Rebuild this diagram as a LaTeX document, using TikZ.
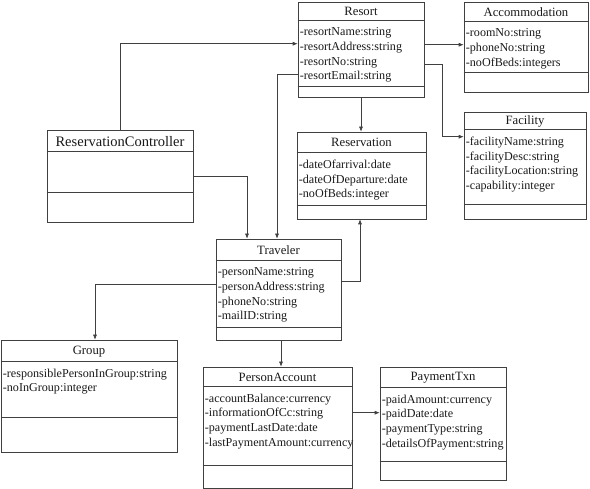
\documentclass[tikz,border=0pt]{standalone}
\usepackage{fontspec}
\setmainfont{Liberation Serif}
\usetikzlibrary{arrows.meta}
\tikzstyle{classbox}=[rectangle,draw=black!75,line width=0.6pt,inner sep=0pt]
\tikzstyle{sep} = [draw=black!75,line width=0.6pt]
\tikzstyle{ctitle} = [inner sep=0pt,text=black!90,font=\fontsize{12.7}{14}\selectfont]
\tikzstyle{attrs} = [inner sep=0pt,anchor=north west,align=left,text=black!90,font=\fontsize{12.1}{14.6}\selectfont]
\tikzstyle{assoc} = [draw=black!75,line width=0.6pt,-{Latex[length=5pt,width=4pt]}]

\begin{document}
\begin{tikzpicture}[x=1pt,y=-1pt]
        \useasboundingbox (0,0) rectangle (590,489);
        % classes
        \node[classbox,minimum width=126pt,minimum height=95pt] (resort) at (361,49.5) {};
        \node[classbox,minimum width=124pt,minimum height=90pt] (accom) at (526,47) {};
        \node[classbox,minimum width=122pt,minimum height=107pt] (fac) at (525,165.5) {};
        \node[classbox,minimum width=146pt,minimum height=92pt] (rc) at (120,176) {};
        \node[classbox,minimum width=129pt,minimum height=87pt] (resv) at (361.5,175.5) {};
        \node[classbox,minimum width=125pt,minimum height=101pt] (trav) at (278.5,289.5) {};
        \node[classbox,minimum width=176pt,minimum height=112pt] (grp) at (89,396) {};
        \node[classbox,minimum width=149pt,minimum height=121pt] (pacc) at (277.5,427.5) {};
        \node[classbox,minimum width=126pt,minimum height=113pt] (ptxn) at (443,423.5) {};
        % compartments
        \path[sep] ([yshift=-19pt]resort.north west) -- ([yshift=-19pt]resort.north east);
        \path[sep] ([yshift=-85pt]resort.north west) -- ([yshift=-85pt]resort.north east);
        \path[sep] ([yshift=-20pt]accom.north west) -- ([yshift=-20pt]accom.north east);
        \path[sep] ([yshift=-71pt]accom.north west) -- ([yshift=-71pt]accom.north east);
        \path[sep] ([yshift=-18pt]fac.north west) -- ([yshift=-18pt]fac.north east);
        \path[sep] ([yshift=-93pt]fac.north west) -- ([yshift=-93pt]fac.north east);
        \path[sep] ([yshift=-22pt]rc.north west) -- ([yshift=-22pt]rc.north east);
        \path[sep] ([yshift=-63pt]rc.north west) -- ([yshift=-63pt]rc.north east);
        \path[sep] ([yshift=-21pt]resv.north west) -- ([yshift=-21pt]resv.north east);
        \path[sep] ([yshift=-74pt]resv.north west) -- ([yshift=-74pt]resv.north east);
        \path[sep] ([yshift=-22pt]trav.north west) -- ([yshift=-22pt]trav.north east);
        \path[sep] ([yshift=-89pt]trav.north west) -- ([yshift=-89pt]trav.north east);
        \path[sep] ([yshift=-22pt]grp.north west) -- ([yshift=-22pt]grp.north east);
        \path[sep] ([yshift=-78pt]grp.north west) -- ([yshift=-78pt]grp.north east);
        \path[sep] ([yshift=-20pt]pacc.north west) -- ([yshift=-20pt]pacc.north east);
        \path[sep] ([yshift=-99pt]pacc.north west) -- ([yshift=-99pt]pacc.north east);
        \path[sep] ([yshift=-21pt]ptxn.north west) -- ([yshift=-21pt]ptxn.north east);
        \path[sep] ([yshift=-95pt]ptxn.north west) -- ([yshift=-95pt]ptxn.north east);
        % titles
        \node[ctitle] (resortT) at ([yshift=-10pt]resort.north) {Resort};
        \node[ctitle] (accomT) at ([yshift=-10.5pt]accom.north) {Accommodation};
        \node[ctitle] (facT) at ([yshift=-9.5pt]fac.north) {Facility};
        \node[ctitle,font=\fontsize{14.5}{16}\selectfont] (rcT) at ([yshift=-11.5pt]rc.north) {ReservationController};
        \node[ctitle] (resvT) at ([yshift=-11pt]resv.north) {Reservation};
        \node[ctitle] (travT) at ([yshift=-11.5pt]trav.north) {Traveler};
        \node[ctitle] (grpT) at ([yshift=-11.5pt]grp.north) {Group};
        \node[ctitle] (paccT) at ([yshift=-10.5pt]pacc.north) {PersonAccount};
        \node[ctitle] (ptxnT) at ([yshift=-11pt]ptxn.north) {PaymentTxn};
        % attributes
        \node[attrs] (resortA) at ([xshift=2pt,yshift=-26pt]resort.north west)
            {-resortName:string\\-resortAddress:string\\-resortNo:string\\-resortEmail:string};
        \node[attrs] (accomA) at ([xshift=2pt,yshift=-27pt]accom.north west)
            {-roomNo:string\\-phoneNo:string\\-noOfBeds:integers};
        \node[attrs] (facA) at ([xshift=2pt,yshift=-25pt]fac.north west)
            {-facilityName:string\\-facilityDesc:string\\-facilityLocation:string\\-capability:integer};
        \node[attrs] (resvA) at ([xshift=2pt,yshift=-28pt]resv.north west)
            {-dateOfarrival:date\\-dateOfDeparture:date\\-noOfBeds:integer};
        \node[attrs] (travA) at ([xshift=2pt,yshift=-29pt]trav.north west)
            {-personName:string\\-personAddress:string\\-phoneNo:string\\-mailID:string};
        \node[attrs] (grpA) at ([xshift=2pt,yshift=-29pt]grp.north west)
            {-responsiblePersonInGroup:string\\-noInGroup:integer};
        \node[attrs] (paccA) at ([xshift=2pt,yshift=-27pt]pacc.north west)
            {-accountBalance:currency\\-informationOfCc:string\\-paymentLastDate:date\\-lastPaymentAmount:currency};
        \node[attrs] (ptxnA) at ([xshift=2pt,yshift=-28pt]ptxn.north west)
            {-paidAmount:currency\\-paidDate:date\\-paymentType:string\\-detailsOfPayment:string};
        % associations
        \coordinate (toAccom) at ([yshift=-43pt]resort.north east);
        \path[assoc] (rc.north) |- ([yshift=-42pt]resort.north west);
        \path[assoc] ([yshift=-73pt]resort.north west) -| ([xshift=-1.5pt]trav.north);
        \path[assoc] ([yshift=-47pt]rc.north east) -| ([xshift=-31.5pt]trav.north);
        \path[assoc] (resort.south) -- (resort.south |- resv.north);
        \path[assoc] (toAccom) -- (toAccom -| accom.west);
        \path[assoc] ([yshift=-63pt]resort.north east) -| ([xshift=-21pt,yshift=-25pt]fac.north west) -- ([yshift=-25pt]fac.north west);
        \path[assoc] ([yshift=-43pt]trav.north east) -| ([xshift=-1.5pt]resv.south);
        \path[assoc] ([yshift=-46pt]trav.north west) -| ([xshift=6pt]grp.north);
        \path[assoc] ([xshift=2.5pt]trav.south) -- ([xshift=3.5pt]pacc.north);
        \path[assoc] ([yshift=-46pt]pacc.north east) -- ([yshift=-46pt]ptxn.north west);
    \end{tikzpicture}
\end{document}
